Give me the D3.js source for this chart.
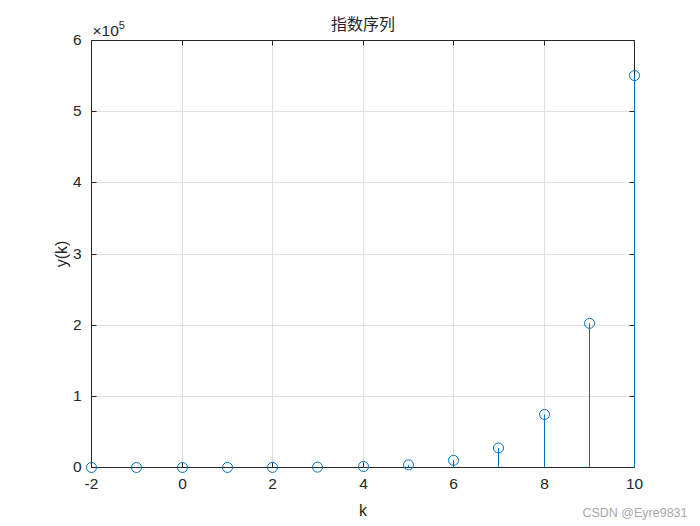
<!DOCTYPE html>
<html lang="zh">
<head>
    <meta charset="UTF-8">
    <title>指数序列</title>
    <script src="https://d3js.org/d3.v7.min.js"></script>
    <style>
        body { margin: 0; background: #fff; }
        text { font-family: "Liberation Sans", Arial, sans-serif; fill: #262626; }
    </style>
</head>
<body>
    <div id="my_dataviz">
        <script>
            // stem data
            var k = [-2, -1, 0, 1, 2, 3, 4, 5, 6, 7, 8, 9, 10];
            var yk = [3.4, 9.2, 25, 68, 185, 502, 1365, 3710, 10086, 27416, 74524, 202571, 550660];
            var xTicks = [-2, 0, 2, 4, 6, 8, 10];
            var yTicks = [0, 1, 2, 3, 4, 5, 6];   // in units of 1e5

            var margin = {top: 40, right: 66, bottom: 59, left: 91},
                width = 700 - margin.left - margin.right,
                height = 526 - margin.top - margin.bottom;

            var svg = d3.select("#my_dataviz")
                .append("svg")
                .attr("width", 700)
                .attr("height", 526)
                .append("g")
                .attr("transform", "translate(" + (margin.left + 0.5) + "," + (margin.top + 0.5) + ")");

            // rounded so 1px lines sit on whole pixels
            var x = d3.scaleLinear().domain([-2, 10]).rangeRound([0, width]);
            var y = d3.scaleLinear().domain([0, 6e5]).rangeRound([height, 0]);
            var yMark = d3.scaleLinear().domain([0, 6e5]).range([height, 0]);

            // grid
            svg.append("g").selectAll("line").data(xTicks).enter().append("line")
                .attr("x1", function(d) { return x(d); }).attr("x2", function(d) { return x(d); })
                .attr("y1", 0).attr("y2", height)
                .style("stroke", "#dfdfdf").style("stroke-width", 1);
            svg.append("g").selectAll("line").data(yTicks).enter().append("line")
                .attr("x1", 0).attr("x2", width)
                .attr("y1", function(d) { return y(d * 1e5); }).attr("y2", function(d) { return y(d * 1e5); })
                .style("stroke", "#dfdfdf").style("stroke-width", 1);

            // axes with inward ticks
            var xAxis = d3.axisBottom(x).tickValues(xTicks).tickSizeInner(-5).tickSizeOuter(0).tickPadding(10)
                .tickFormat(function(d) { return d; }).offset(0);
            var yAxis = d3.axisLeft(y).tickValues(yTicks.map(function(d) { return d * 1e5; }))
                .tickSizeInner(-5).tickSizeOuter(0).tickPadding(10).offset(0)
                .tickFormat(function(d) { return d / 1e5; });
            var xTop = d3.axisTop(x).tickValues(xTicks).tickSizeInner(-5).tickSizeOuter(0).offset(0).tickFormat("");
            var yRight = d3.axisRight(y).tickValues(yTicks.map(function(d) { return d * 1e5; }))
                .tickSizeInner(-5).tickSizeOuter(0).offset(0).tickFormat("");

            [
                svg.append("g").attr("transform", "translate(0," + height + ")").call(xAxis),
                svg.append("g").call(yAxis),
                svg.append("g").call(xTop),
                svg.append("g").attr("transform", "translate(" + width + ",0)").call(yRight)
            ].forEach(function(g) {
                g.select(".domain").style("stroke", "#262626").style("stroke-width", 1);
                g.selectAll(".tick line").style("stroke", "#262626");
                g.selectAll(".tick text").style("font-size", "15.5px").style("fill", "#262626")
                    .style("font-family", "'Liberation Sans', Arial, sans-serif");
            });

            // stems (drawn over the box, like MATLAB)
            svg.append("g").selectAll("line").data(k).enter().append("line")
                .attr("x1", function(d) { return x(d); }).attr("x2", function(d) { return x(d); })
                .attr("y1", y(0)).attr("y2", function(d, i) { return yMark(yk[i]); })
                .style("stroke", "#0072BD").style("stroke-width", 1);

            // markers
            svg.append("g").selectAll("circle").data(k).enter().append("circle")
                .attr("cx", function(d) { return x(d); })
                .attr("cy", function(d, i) { return yMark(yk[i]); })
                .attr("r", 5)
                .style("fill", "none").style("stroke", "#0072BD").style("stroke-width", 1);

            // exponent
            var ex = svg.append("text").attr("x", 1).attr("y", -5).style("font-size", "15.5px");
            ex.append("tspan").text("×10");
            ex.append("tspan").attr("dy", -7).style("font-size", "11px").text("5");

            // title and labels
            svg.append("text").attr("x", width / 2).attr("y", -11).attr("text-anchor", "middle")
                .style("font-family", "'Noto Sans CJK SC', sans-serif").style("font-size", "16px")
                .text("指数序列");
            svg.append("text").attr("x", width / 2).attr("y", height + 48).attr("text-anchor", "middle")
                .style("font-size", "16px").text("k");
            svg.append("text").attr("transform", "translate(-25," + (height / 2) + ") rotate(-90)")
                .attr("text-anchor", "middle").style("font-size", "16px").text("y(k)");

            // watermark
            svg.append("text").attr("x", 596).attr("y", 476).attr("text-anchor", "end")
                .style("font-size", "12.5px").style("fill", "#a8a8a8").text("CSDN @Eyre9831");
        </script>
    </div>
</body>
</html>
